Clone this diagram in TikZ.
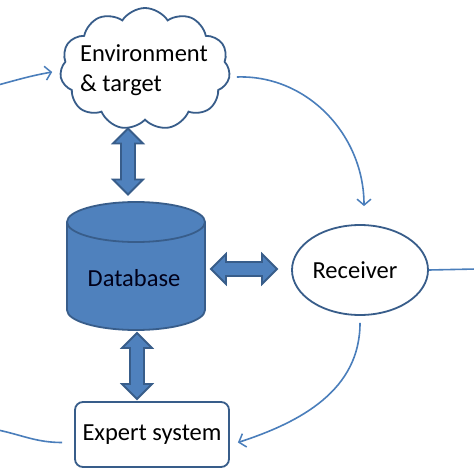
\documentclass[tikz,border=0pt]{standalone}
\usepackage{fontspec}
\setmainfont{Carlito}
\usetikzlibrary{shapes.symbols,shapes.geometric,arrows.meta,calc}
\definecolor{boxfill}{HTML}{4F81BD}
\definecolor{boxline}{HTML}{385D8A}
\definecolor{conn}{HTML}{4A7EBB}
\begin{document}
\begin{tikzpicture}[x=1pt,y=1pt,
  every node/.style={font=\fontsize{24.5}{30}\selectfont},
  outl/.style={draw=boxline,line width=1.8pt},
  fatarr/.pic={\path[outl,fill=boxfill,line join=miter] (-33,0) -- (-18,15) -- (-18,7) -- (18,7) -- (18,15)
      -- (33,0) -- (18,-15) -- (18,-7) -- (-18,-7) -- (-18,-15) -- cycle;},
  thin/.style={draw=conn,line width=1.6pt},
  tip/.style={-{Straight Barb[length=6pt,width=14pt,line width=1.5pt]}}
]
\useasboundingbox (0,0) rectangle (474,-474);
\clip (0,0) rectangle (474,-474);
\fill[white] (0,0) rectangle (474,-474);
% cloud
\node[cloud,cloud puffs=11,cloud puff arc=115,aspect=1.4,outl,fill=white,
  minimum width=170pt,minimum height=122pt,inner sep=0pt] (envshape) at (145,-69) {};
\node[align=left,inner sep=0pt] (env) at (144,-70) {Environment\\\& target};
% database cylinder
\path[outl,fill=boxfill] (67,-222) -- (67,-310)
  arc[start angle=180,end angle=360,x radius=69,y radius=20] -- (205,-222)
  arc[start angle=0,end angle=180,x radius=69,y radius=20] -- cycle;
\draw[outl] (67,-222) arc[start angle=180,end angle=360,x radius=69,y radius=20];
\node[inner sep=0pt,text=black!90!blue] (db) at (134,-278) {Database};
% receiver
\node[ellipse,outl,fill=white,minimum width=136pt,minimum height=90pt,inner sep=0pt] (rec) at (360,-270) {};
\node[inner sep=0pt] (rectext) at (355,-270) {Receiver};
% expert
\node[rectangle,rounded corners=8pt,outl,fill=white,minimum width=154pt,minimum height=65pt,inner sep=0pt] (exp) at (152,-434.5) {Expert system};
% fat arrows
\pic[rotate=90] (a1) at (128,-161.5) {fatarr};
\pic (a2) at (244,-269) {fatarr};
\pic[rotate=90] (a3) at (137,-366) {fatarr};
% thin connectors
\coordinate (l1) at (-2,-85);
\coordinate (l2) at (-2,-430);
\coordinate (r1) at (476,-269);
\draw[thin,tip] (l1) to[out=15,in=190] ([xshift=-8pt]envshape.west |- 0,-72);
\draw[thin,tip] ([xshift=7pt,yshift=-8pt]envshape.east) to[out=2,in=90] ([xshift=4pt,yshift=18pt]rec.north);
\draw[thin,tip] ([yshift=-7pt]rec.south) to[out=-90,in=18] ([xshift=8pt,yshift=-8pt]exp.east);
\draw[thin] (rec.east) -- (r1);
\draw[thin] (l2) to[out=-12,in=180] ([xshift=-12pt,yshift=-8pt]exp.west);
\end{tikzpicture}
\end{document}
